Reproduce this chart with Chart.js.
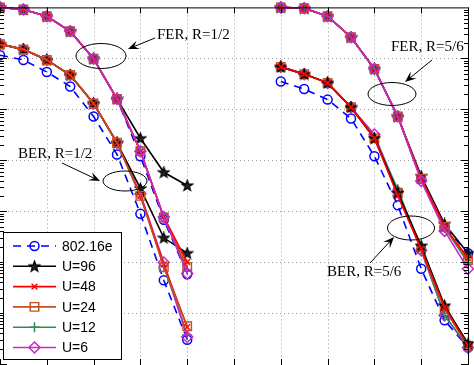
<!DOCTYPE html>
<html><head><meta charset="utf-8">
<script src="https://cdn.jsdelivr.net/npm/chart.js@4/dist/chart.umd.min.js"></script>
<style>
html,body{margin:0;padding:0;background:#fff;overflow:hidden;width:474px;height:365px;}
#wrap{position:absolute;left:-30px;top:0;width:510px;height:395px;}
</style></head><body>
<div id="wrap"><canvas id="c"></canvas></div>
<script>
// ---------- data ----------
const snrR12 = [0, 0.5, 1, 1.5, 2, 2.5, 3, 3.5, 4];
const snrR56 = [6, 6.5, 7, 7.5, 8, 8.5, 9, 9.5, 10];
const xGrid = [0, 1, 2, 3, 4, 5, 6, 7, 8, 9, 10];
const yDecades = [1, 1e-1, 1e-2, 1e-3, 1e-4, 1e-5, 1e-6, 1e-7];
const seriesNames = ['802.16e', 'U=96', 'U=48', 'U=24', 'U=12', 'U=6'];

// BER, R=1/2
const ber12_ieee = [0.115, 0.093, 0.054, 0.028, 7.2e-3, 1.3e-3, 8.9e-5, 4.4e-6, 3.0e-7];
const ber12_u96  = [0.19, 0.15, 0.093, 0.047, 0.013, 2.2e-3, 2.8e-4, 3.0e-5, 1.5e-5];
const ber12_u48  = [0.19, 0.15, 0.093, 0.047, 0.013, 2.2e-3, 2.0e-4, 9.0e-6, 5.3e-7];
const ber12_u24  = [0.19, 0.15, 0.093, 0.047, 0.013, 2.2e-3, 2.0e-4, 7.9e-6, 5.5e-7];
const ber12_u12  = [0.19, 0.15, 0.093, 0.047, 0.013, 2.2e-3, 2.1e-4, 8.5e-6, 3.7e-7];
const ber12_u6   = [0.19, 0.15, 0.093, 0.047, 0.013, 2.2e-3, 2.2e-4, 9.8e-6, 3.4e-7];
// FER, R=1/2
const fer12_ieee = [1.0, 0.91, 0.67, 0.34, 0.098, 0.016, 1.2e-3, 6.8e-5, 5.8e-6];
const fer12_u96  = [1.0, 0.91, 0.67, 0.34, 0.098, 0.016, 2.7e-3, 5.8e-4, 3.2e-4];
const fer12_u48  = [1.0, 0.91, 0.67, 0.34, 0.098, 0.016, 1.5e-3, 7.7e-5, 1.0e-5];
const fer12_u24  = [1.0, 0.91, 0.67, 0.34, 0.098, 0.016, 1.5e-3, 7.5e-5, 8.0e-6];
const fer12_u12  = [1.0, 0.91, 0.67, 0.34, 0.098, 0.016, 1.5e-3, 7.5e-5, 7.0e-6];
const fer12_u6   = [1.0, 0.91, 0.67, 0.34, 0.098, 0.016, 1.5e-3, 7.7e-5, 6.0e-6];
// BER, R=5/6
const ber56_ieee = [0.035, 0.025, 0.0155, 6.6e-3, 1.2e-3, 1.3e-4, 7.4e-6, 7.2e-7, 2.1e-7];
const ber56_u96  = [0.068, 0.049, 0.033, 0.011, 2.7e-3, 2.3e-4, 2.1e-5, 1.4e-6, 2.5e-7];
const ber56_u48  = [0.068, 0.049, 0.033, 0.011, 2.7e-3, 2.0e-4, 1.8e-5, 1.3e-6, 2.3e-7];
const ber56_u24  = [0.068, 0.049, 0.033, 0.011, 2.7e-3, 2.3e-4, 1.8e-5, 1.2e-6, 2.3e-7];
const ber56_u12  = [0.068, 0.049, 0.033, 0.011, 2.8e-3, 2.7e-4, 1.8e-5, 9.0e-7, 2.2e-7];
const ber56_u6   = [0.068, 0.049, 0.033, 0.011, 3.2e-3, 2.4e-4, 1.7e-5, 9.0e-7, 2.1e-7];
// FER, R=5/6
const fer56_ieee = [1.0, 0.96, 0.67, 0.26, 0.062, 7.2e-3, 4.3e-4, 4.9e-5, 1.5e-5];
const fer56_u96  = [1.0, 0.96, 0.67, 0.26, 0.062, 7.2e-3, 4.9e-4, 5.6e-5, 1.5e-5];
const fer56_u48  = [1.0, 0.96, 0.67, 0.26, 0.062, 7.2e-3, 4.3e-4, 4.9e-5, 1.2e-5];
const fer56_u24  = [1.0, 0.96, 0.67, 0.26, 0.062, 7.2e-3, 4.3e-4, 4.9e-5, 1.1e-5];
const fer56_u12  = [1.0, 0.96, 0.67, 0.26, 0.062, 7.2e-3, 4.3e-4, 4.7e-5, 9.8e-6];
const fer56_u6   = [1.0, 0.96, 0.67, 0.26, 0.062, 7.2e-3, 3.9e-4, 4.1e-5, 7.4e-6];

// ---------- styles ----------
function makeStar(){
  const c = document.createElement('canvas'); c.width = 13; c.height = 13;
  const g = c.getContext('2d');
  g.beginPath();
  for (let i = 0; i < 10; i++) {
    const r = i % 2 ? 2.3 : 5.6;
    const a = -Math.PI / 2 + i * Math.PI / 5;
    const px = 6.5 + r * Math.cos(a), py = 6.9 + r * Math.sin(a);
    i ? g.lineTo(px, py) : g.moveTo(px, py);
  }
  g.closePath();
  g.fillStyle = '#222'; g.fill();
  g.strokeStyle = '#000'; g.lineWidth = 1.2; g.stroke();
  return c;
}
const starImg = makeStar();
const styles = {
  '802.16e': {color: '#0000ff', dash: [8, 6], ps: 'circle', r: 4.5, bw: 1.5},
  'U=96':    {color: '#000000', dash: [], ps: starImg, r: 6, bw: 1.2},
  'U=48':    {color: '#ff0000', dash: [], ps: 'crossRot', r: 4, bw: 1.5},
  'U=24':    {color: '#c0501e', dash: [], ps: 'rect', r: 6, bw: 1.4},
  'U=12':    {color: '#2e8b57', dash: [], ps: 'cross', r: 5, bw: 1.5},
  'U=6':     {color: '#c828c8', dash: [], ps: 'rectRot', r: 5.5, bw: 1.5}
};

function ds(name, xs, ys, order){
  const s = styles[name];
  return {
    label: name,
    data: xs.map((x, i) => ({x: x, y: ys[i]})),
    borderColor: s.color, backgroundColor: 'rgba(0,0,0,0)',
    borderWidth: 1.6, borderDash: s.dash,
    pointStyle: s.ps, pointRadius: s.r, pointBorderWidth: s.bw,
    pointBorderColor: s.color, pointBackgroundColor: 'rgba(0,0,0,0)',
    tension: 0, clip: false, order: order
  };
}

const datasets = [
  // FER R=1/2
  ds('802.16e', snrR12, fer12_ieee, 16), ds('U=96', snrR12, fer12_u96, 15),
  ds('U=12', snrR12, fer12_u12, 14), ds('U=24', snrR12, fer12_u24, 13),
  ds('U=48', snrR12, fer12_u48, 12), ds('U=6', snrR12, fer12_u6, 11),
  // BER R=1/2
  ds('802.16e', snrR12, ber12_ieee, 26), ds('U=12', snrR12, ber12_u12, 25),
  ds('U=6', snrR12, ber12_u6, 24), ds('U=96', snrR12, ber12_u96, 23),
  ds('U=48', snrR12, ber12_u48, 22), ds('U=24', snrR12, ber12_u24, 21),
  // FER R=5/6
  ds('802.16e', snrR56, fer56_ieee, 36), ds('U=96', snrR56, fer56_u96, 35),
  ds('U=12', snrR56, fer56_u12, 34), ds('U=24', snrR56, fer56_u24, 33),
  ds('U=48', snrR56, fer56_u48, 32), ds('U=6', snrR56, fer56_u6, 31),
  // BER R=5/6
  ds('802.16e', snrR56, ber56_ieee, 46), ds('U=6', snrR56, ber56_u6, 45),
  ds('U=12', snrR56, ber56_u12, 44), ds('U=24', snrR56, ber56_u24, 43),
  ds('U=96', snrR56, ber56_u96, 42), ds('U=48', snrR56, ber56_u48, 41)
];

// ---------- plugin: MATLAB-style axes, annotations, legend ----------
function drawMarker(g, name, x, y){
  const s = styles[name];
  g.save();
  g.strokeStyle = s.color; g.lineWidth = s.bw; g.setLineDash([]);
  g.beginPath();
  if (s.ps === 'circle') { g.arc(x, y, s.r, 0, Math.PI * 2); }
  else if (s.ps === 'crossRot') { g.moveTo(x - 2.9, y - 2.9); g.lineTo(x + 2.9, y + 2.9); g.moveTo(x - 2.9, y + 2.9); g.lineTo(x + 2.9, y - 2.9); }
  else if (s.ps === 'rect') { const h = s.r * Math.SQRT1_2; g.rect(x - h, y - h, 2 * h, 2 * h); }
  else if (s.ps === 'cross') { g.moveTo(x - s.r, y); g.lineTo(x + s.r, y); g.moveTo(x, y - s.r); g.lineTo(x, y + s.r); }
  else if (s.ps === 'rectRot') { g.moveTo(x, y - s.r); g.lineTo(x + s.r, y); g.lineTo(x, y + s.r); g.lineTo(x - s.r, y); g.closePath(); }
  g.stroke();
  if (s.ps === starImg) g.drawImage(starImg, x - 6.5, y - 6.5);
  g.restore();
}

function arrow(g, x1, y1, x2, y2){
  const a = Math.atan2(y2 - y1, x2 - x1), L = 11, W = 4.5;
  g.beginPath(); g.moveTo(x1, y1); g.lineTo(x2 - L * 0.6 * Math.cos(a), y2 - L * 0.6 * Math.sin(a)); g.stroke();
  g.beginPath();
  g.moveTo(x2, y2);
  g.lineTo(x2 - L * Math.cos(a) + W * Math.sin(a), y2 - L * Math.sin(a) - W * Math.cos(a));
  g.lineTo(x2 - L * 0.6 * Math.cos(a), y2 - L * 0.6 * Math.sin(a));
  g.lineTo(x2 - L * Math.cos(a) - W * Math.sin(a), y2 - L * Math.sin(a) + W * Math.cos(a));
  g.closePath(); g.fill();
}

const matlabAxes = {
  id: 'matlabAxes',
  beforeDatasetsDraw(chart){
    const g = chart.ctx, a = chart.chartArea, xs = chart.scales.x, ys = chart.scales.y;
    g.save();
    g.strokeStyle = '#9a9a9a'; g.lineWidth = 1; g.setLineDash([1, 3]);
    xGrid.slice(1, -1).forEach(v => {
      const px = Math.round(xs.getPixelForValue(v)) + 0.5;
      g.beginPath(); g.moveTo(px, a.top); g.lineTo(px, a.bottom); g.stroke();
    });
    yDecades.slice(1, -1).forEach(v => {
      const py = Math.round(ys.getPixelForValue(v)) + 0.5;
      g.beginPath(); g.moveTo(a.left, py); g.lineTo(a.right, py); g.stroke();
    });
    g.restore();
  },
  afterDatasetsDraw(chart){
    const g = chart.ctx, a = chart.chartArea, xs = chart.scales.x, ys = chart.scales.y;
    g.save();
    g.strokeStyle = '#000'; g.lineWidth = 1; g.setLineDash([]);
    // frame
    g.beginPath();
    g.moveTo(a.left - 0.5, a.top + 0.5); g.lineTo(a.right + 0.5, a.top + 0.5);
    g.lineTo(a.right + 0.5, a.bottom + 1.5); g.lineTo(a.left - 0.5, a.bottom + 1.5); g.closePath();
    g.stroke();
    // y ticks (major + minor), inward on both sides
    for (let k = 0; k < yDecades.length - 1; k++) {
      for (let m = 1; m <= 9; m++) {
        const v = yDecades[k + 1] * m;
        const py = Math.round(ys.getPixelForValue(v)) + 0.5;
        const len = m === 1 ? 7 : 4;
        g.beginPath();
        g.moveTo(a.left, py); g.lineTo(a.left + len, py);
        g.moveTo(a.right, py); g.lineTo(a.right - len, py);
        g.stroke();
      }
    }
    // x ticks inward top and bottom
    xGrid.forEach(v => {
      const px = Math.round(xs.getPixelForValue(v)) + 0.5;
      g.beginPath();
      g.moveTo(px, a.top); g.lineTo(px, a.top + 6);
      g.moveTo(px, a.bottom + 1); g.lineTo(px, a.bottom - 5);
      g.stroke();
    });
    g.restore();
  },
  afterDraw(chart){
    const g = chart.ctx;
    // positions below are in page pixels; canvas is shifted 30px left
    g.save();
    g.translate(30, 0);
    g.strokeStyle = '#000'; g.fillStyle = '#000'; g.lineWidth = 1; g.setLineDash([]);
    // ellipses
    [[101, 56, 25, 12.5], [125, 181, 22, 10], [392, 94, 24, 11.5], [411, 228, 23.5, 12]].forEach(e => {
      g.beginPath(); g.ellipse(e[0], e[1], e[2], e[3], 0, 0, Math.PI * 2); g.stroke();
    });
    // arrows
    arrow(g, 155, 38, 128, 49);
    arrow(g, 62, 163, 100, 181);
    arrow(g, 432, 60, 405, 82);
    arrow(g, 370, 263, 394, 237);
    // labels
    g.font = '15px "Liberation Serif", "DejaVu Serif", serif';
    g.textBaseline = 'middle'; g.textAlign = 'left';
    g.fillText('FER, R=1/2', 157, 35);
    g.fillText('BER, R=1/2', 18, 154);
    g.fillText('FER, R=5/6', 391, 47);
    g.fillText('BER, R=5/6', 327, 272);
    // legend
    g.fillStyle = '#fff';
    g.fillRect(3.5, 232.5, 118, 127);
    g.strokeRect(3.5, 232.5, 118, 127);
    g.font = '14px "Liberation Sans", Arial, sans-serif';
    seriesNames.forEach((n, i) => {
      const y = 246 + i * 20.3;
      const s = styles[n];
      g.save();
      g.strokeStyle = s.color; g.lineWidth = 1.6; g.setLineDash(s.dash);
      g.beginPath(); g.moveTo(13, y); g.lineTo(56, y); g.stroke();
      g.restore();
      drawMarker(g, n, 34.5, y);
      g.fillStyle = '#000';
      g.fillText(n, 62, y + 1);
    });
    g.restore();
  }
};

new Chart(document.getElementById('c'), {
  type: 'line',
  data: {datasets: datasets},
  options: {
    responsive: true, maintainAspectRatio: false, animation: false,
    layout: {padding: {left: 30, right: 12, top: 5, bottom: 31}},
    plugins: {legend: {display: false}, tooltip: {enabled: false}},
    scales: {
      x: {type: 'linear', min: xGrid[0], max: xGrid[xGrid.length - 1], display: false},
      y: {type: 'logarithmic', min: yDecades[yDecades.length - 1], max: yDecades[0], display: false}
    }
  },
  plugins: [matlabAxes]
});
</script>
</body></html>
